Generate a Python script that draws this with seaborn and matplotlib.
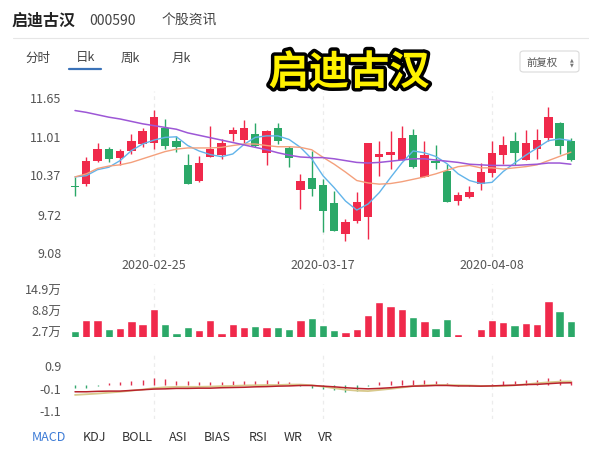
import numpy as np
import pandas as pd
import matplotlib
matplotlib.use("Agg")
import matplotlib.pyplot as plt
import matplotlib.patheffects as pe
from matplotlib.patches import FancyBboxPatch
import seaborn as sns

# ---------------- data ----------------
dates = ["2020-02-14", "2020-02-17", "2020-02-18", "2020-02-19", "2020-02-20", "2020-02-21",
         "2020-02-24", "2020-02-25", "2020-02-26", "2020-02-27", "2020-02-28", "2020-03-02",
         "2020-03-03", "2020-03-04", "2020-03-05", "2020-03-06", "2020-03-09", "2020-03-10",
         "2020-03-11", "2020-03-12", "2020-03-13", "2020-03-16", "2020-03-17", "2020-03-18",
         "2020-03-19", "2020-03-20", "2020-03-23", "2020-03-24", "2020-03-25", "2020-03-26",
         "2020-03-27", "2020-03-30", "2020-03-31", "2020-04-01", "2020-04-02", "2020-04-03",
         "2020-04-07", "2020-04-08", "2020-04-09", "2020-04-10", "2020-04-13", "2020-04-14",
         "2020-04-15", "2020-04-16", "2020-04-17"]
date_ticks = ["2020-02-25", "2020-03-17", "2020-04-08"]

open_ = [10.18, 10.22, 10.59, 10.79, 10.64, 10.755, 10.875, 10.90, 11.14, 10.93,
         10.52, 10.26, 10.655, 10.70, 11.04, 10.94, 11.04, 10.73, 11.14, 10.81,
         10.11, 10.31, 10.20, 9.89, 9.39, 9.60, 9.66, 10.665, 10.69, 10.61,
         11.025, 10.32, 10.59, 10.42, 9.935, 9.99, 10.21, 10.39, 10.69, 10.92,
         10.61, 10.80, 10.975, 11.22, 10.92]
close = [10.16, 10.59, 10.80, 10.63, 10.76, 10.925, 11.09, 11.32, 10.84, 10.82,
         10.21, 10.555, 10.80, 10.89, 11.11, 11.14, 10.85, 11.09, 10.92, 10.64,
         10.26, 10.13, 9.77, 9.43, 9.58, 9.91, 10.90, 10.705, 10.74, 10.975,
         10.50, 10.69, 10.555, 9.91, 10.03, 10.085, 10.41, 10.73, 10.86, 10.72,
         10.89, 10.94, 11.32, 10.85, 10.615]
high = [10.32, 10.655, 10.89, 10.82, 10.79, 11.04, 11.136, 11.44, 11.29, 11.00,
        10.71, 10.68, 11.18, 10.96, 11.16, 11.27, 11.22, 11.11, 11.22, 10.85,
        10.37, 10.76, 10.295, 10.09, 9.63, 10.075, 10.90, 10.92, 11.09, 11.17,
        11.12, 10.92, 10.865, 10.54, 10.075, 10.18, 10.56, 10.93, 11.00, 11.07,
        11.10, 11.12, 11.49, 11.235, 10.97]
low = [10.02, 10.18, 10.57, 10.57, 10.52, 10.71, 10.82, 10.79, 10.79, 10.74,
       10.21, 10.24, 10.655, 10.63, 10.92, 10.89, 10.82, 10.52, 10.875, 10.50,
       9.80, 10.02, 9.41, 9.43, 9.26, 9.56, 9.30, 10.35, 10.46, 10.61,
       10.48, 10.32, 10.46, 9.91, 9.87, 9.98, 10.12, 10.33, 10.54, 10.52,
       10.61, 10.63, 10.93, 10.71, 10.60]

ma5 = [10.33, 10.35, 10.45, 10.49, 10.60, 10.765, 10.875, 10.94, 10.985, 10.995,
       10.85, 10.76, 10.70, 10.665, 10.71, 10.87, 10.985, 11.01, 11.01, 10.95,
       10.82, 10.63, 10.35, 10.15, 9.93, 9.78, 9.88, 10.07, 10.32, 10.56,
       10.76, 10.73, 10.67, 10.55, 10.38, 10.27, 10.22, 10.24, 10.42, 10.56,
       10.69, 10.81, 10.93, 10.96, 10.93]
ma10 = [10.33, 10.38, 10.47, 10.51, 10.53, 10.57, 10.63, 10.69, 10.75, 10.79,
        10.81, 10.81, 10.81, 10.82, 10.85, 10.875, 10.875, 10.85, 10.83, 10.83,
        10.82, 10.78, 10.655, 10.54, 10.41, 10.27, 10.23, 10.21, 10.22, 10.25,
        10.29, 10.33, 10.38, 10.44, 10.50, 10.52, 10.48, 10.48, 10.46, 10.48,
        10.50, 10.53, 10.60, 10.67, 10.74]
ma20 = [11.43, 11.40, 11.36, 11.32, 11.29, 11.25, 11.21, 11.18, 11.15, 11.12,
        11.06, 11.02, 10.98, 10.94, 10.90, 10.86, 10.82, 10.78, 10.73, 10.69,
        10.66, 10.65, 10.65, 10.63, 10.60, 10.57, 10.56, 10.57, 10.59, 10.61,
        10.63, 10.63, 10.61, 10.59, 10.57, 10.54, 10.53, 10.52, 10.52, 10.52,
        10.53, 10.54, 10.56, 10.56, 10.54]

volume_wan = [2.7, 5.94, 5.94, 3.2, 3.58, 5.65, 4.76, 9.1, 4.76, 2.11,
              3.79, 3.0, 5.94, 2.11, 4.76, 3.88, 4.17, 3.88, 3.88, 3.2,
              5.94, 6.53, 4.38, 3.0, 2.2, 3.2, 7.4, 11.25, 10.07, 9.1,
              6.74, 5.56, 3.5, 6.15, 1.73, 1.23, 3.2, 5.85, 5.26, 4.38,
              4.97, 4.67, 11.45, 8.5, 5.56]

dif = [-0.43, -0.40, -0.37, -0.33, -0.29, -0.24, -0.19, -0.13, -0.09, -0.07,
       -0.07, -0.07, -0.06, -0.04, -0.03, -0.01, 0.0, 0.01, 0.01, 0.03,
       0.03, 0.0, -0.06, -0.13, -0.20, -0.24, -0.26, -0.21, -0.16, -0.10,
       -0.04, 0.0, 0.01, 0.01, 0.0, -0.01, -0.03, -0.03, -0.03, 0.0,
       0.04, 0.09, 0.13, 0.16, 0.17]
dea = [-0.29, -0.29, -0.27, -0.26, -0.26, -0.23, -0.20, -0.17, -0.16, -0.14,
       -0.14, -0.13, -0.13, -0.11, -0.10, -0.09, -0.07, -0.06, -0.04, -0.03,
       -0.01, -0.01, -0.04, -0.07, -0.11, -0.14, -0.16, -0.14, -0.11, -0.07,
       -0.04, -0.03, -0.01, -0.01, -0.03, -0.03, -0.04, -0.03, -0.01, 0.0,
       0.03, 0.04, 0.07, 0.10, 0.11]
macd_hist = [-0.14, -0.10, -0.05, 0.10, 0.14, 0.20, 0.24, 0.31, 0.27, 0.21,
             0.17, 0.13, 0.16, 0.16, 0.21, 0.21, 0.20, 0.24, 0.20, 0.13,
             -0.03, -0.10, -0.16, -0.23, -0.30, -0.26, -0.05, 0.13, 0.17, 0.24,
             0.24, 0.24, 0.17, 0.10, -0.03, -0.03, -0.05, 0.07, 0.17, 0.20,
             0.24, 0.24, 0.31, 0.27, 0.21]

price_ticks = [9.08, 9.72, 10.37, 11.01, 11.65]
vol_ticks = [2.7, 8.8, 14.9]
vol_tick_labels = ["2.7万", "8.8万", "14.9万"]
macd_ticks = [-1.1, -0.1, 0.9]
bottom_tabs = ["MACD", "KDJ", "BOLL", "ASI", "BIAS", "RSI", "WR", "VR"]

# ---------------- style ----------------
sns.set_style("white")
plt.rcParams["font.family"] = ["Noto Sans CJK SC", "DejaVu Sans"]
plt.rcParams["axes.unicode_minus"] = False

RED = "#F0294B"
GREEN = "#2BA868"
BLUE = "#62B4EA"
ORANGE = "#F4A07C"
PURPLE = "#9D57D6"
GRID = "#ECECEC"
TXT = "#555555"

W, H = 589, 456
fig = plt.figure(figsize=(W / 100, H / 100), dpi=100)
fig.patch.set_facecolor("white")


def rect(l, t, r, b):
    return [l / W, 1 - b / H, (r - l) / W, (b - t) / H]


n = len(close)
idx = np.arange(n)
up = [c >= o for o, c in zip(open_, close)]
cols = [RED if u else GREEN for u in up]
tick_pos = [dates.index(d) for d in date_ticks]
XL = (-0.444, 44.63)

# ---------------- price panel ----------------
ax_p = fig.add_axes(rect(70, 92, 578, 258))
for tp in tick_pos:
    ax_p.axvline(tp, color=GRID, lw=0.9, ls=(0, (3, 3)), zorder=0)
body_bottom = [min(o, c) for o, c in zip(open_, close)]
body_h = [max(abs(c - o), 0.015) for o, c in zip(open_, close)]
ax_p.vlines(idx, low, high, colors=cols, lw=1.0, zorder=2)
ax_p.bar(idx, body_h, bottom=body_bottom, width=0.74, color=cols, zorder=3, linewidth=0)
sns.lineplot(x=idx, y=ma5, ax=ax_p, color=BLUE, lw=1.0, zorder=4)
sns.lineplot(x=idx, y=ma10, ax=ax_p, color=ORANGE, lw=1.0, zorder=4)
sns.lineplot(x=idx, y=ma20, ax=ax_p, color=PURPLE, lw=1.1, zorder=4)
ax_p.set_xlim(*XL)
ax_p.set_ylim(9.002, 11.754)
ax_p.set_yticks(price_ticks)
ax_p.set_yticklabels([f"{v:.2f}" for v in price_ticks])
ax_p.set_xticks(tick_pos)
ax_p.set_xticklabels(date_ticks)
ax_p.tick_params(axis="both", length=0, labelsize=9, colors=TXT)
ax_p.tick_params(axis="y", pad=6)
ax_p.tick_params(axis="x", pad=1)
ax_p.set_xlabel("")
ax_p.set_ylabel("")
for s in ax_p.spines.values():
    s.set_visible(False)

# ---------------- volume panel ----------------
ax_v = fig.add_axes(rect(70, 285, 578, 337.5))
for tp in tick_pos:
    ax_v.axvline(tp, color=GRID, lw=0.9, ls=(0, (3, 3)), zorder=0)
vol_df = pd.DataFrame({"i": idx, "vol": volume_wan, "dir": ["up" if u else "down" for u in up]})
sns.barplot(data=vol_df, x="i", y="vol", hue="dir", palette={"up": RED, "down": GREEN},
            dodge=False, width=0.74, legend=False, ax=ax_v, saturation=1, zorder=2)
ax_v.set_xlim(*XL)
ax_v.set_ylim(0.99, 16.46)
ax_v.set_yticks(vol_ticks)
ax_v.set_yticklabels(vol_tick_labels)
ax_v.set_xticks([])
ax_v.tick_params(axis="both", length=0, labelsize=9, colors=TXT)
ax_v.tick_params(axis="y", pad=6)
ax_v.set_xlabel("")
ax_v.set_ylabel("")
for s in ax_v.spines.values():
    s.set_visible(False)

# ---------------- MACD panel ----------------
ax_m = fig.add_axes(rect(70, 355, 578, 420))
for tp in tick_pos:
    ax_m.axvline(tp, color=GRID, lw=0.9, ls=(0, (3, 3)), zorder=0)
hist_cols = ["#E0304E" if h >= 0 else "#35A870" for h in macd_hist]
ax_m.vlines(idx, 0, macd_hist, colors=hist_cols, lw=1.0, zorder=2)
sns.lineplot(x=idx, y=dif, ax=ax_m, color="#D8C98C", lw=1.3, zorder=3)
sns.lineplot(x=idx, y=dea, ax=ax_m, color="#B8222C", lw=1.1, zorder=4)
ax_m.set_xlim(*XL)
ax_m.set_ylim(-1.5, 1.389)
ax_m.set_yticks(macd_ticks)
ax_m.set_yticklabels([f"{v:.1f}" for v in macd_ticks])
ax_m.set_xticks([])
ax_m.tick_params(axis="both", length=0, labelsize=9, colors=TXT)
ax_m.tick_params(axis="y", pad=6)
ax_m.set_xlabel("")
ax_m.set_ylabel("")
for s in ax_m.spines.values():
    s.set_visible(False)

# ---------------- header & decorations ----------------
def px(x, y):
    return x / W, 1 - y / H

fig.text(*px(12, 21), "启迪古汉", fontsize=11.5, fontweight="bold", color="#222222", va="center", ha="left")
fig.text(*px(89, 21), "000590", fontsize=10, color="#444444", va="center", ha="left")
fig.text(*px(162, 21), "个股资讯", fontsize=10, color="#444444", va="center", ha="left")
fig.add_artist(plt.Line2D([13 / W, 1.0], [1 - 38.5 / H] * 2, color="#E6E6E6", lw=0.8))

tabs = [("分时", 25), ("日k", 76), ("周k", 121), ("月k", 172)]
for t, x in tabs:
    fig.text(*px(x, 58), t, fontsize=9, color="#444444", va="center", ha="left")
fig.add_artist(plt.Line2D([69 / W, 101 / W], [1 - 69.8 / H] * 2, color="#3A72B8", lw=1.6))

big = fig.text(*px(349, 74), "启迪古汉", fontsize=29, fontweight="bold", color="#FFF200",
               va="center", ha="center")
big.set_path_effects([pe.withStroke(linewidth=5, foreground="black")])

box = FancyBboxPatch((520 / W, 1 - 73 / H), 59 / W, 21 / H,
                     boxstyle="round,pad=0,rounding_size=0.006",
                     transform=fig.transFigure, fc="white", ec="#DADADA", lw=0.8)
fig.add_artist(box)
fig.text(*px(526, 62.5), "前复权", fontsize=7.5, color="#555555", va="center", ha="left")
fig.text(*px(572, 59.5), "▲", fontsize=3.5, color="#777777", va="center", ha="center",
         family=["DejaVu Sans"])
fig.text(*px(572, 65), "▼", fontsize=3.5, color="#777777", va="center", ha="center",
         family=["DejaVu Sans"])

tab_x = [49, 94, 137, 178, 217, 258, 293, 326]
for t, x in zip(bottom_tabs, tab_x):
    fig.text(*px(x, 438), t, fontsize=9, color="#3C7BD6" if t == "MACD" else "#333333",
             va="center", ha="center")

fig.savefig("out.png", dpi=100)
